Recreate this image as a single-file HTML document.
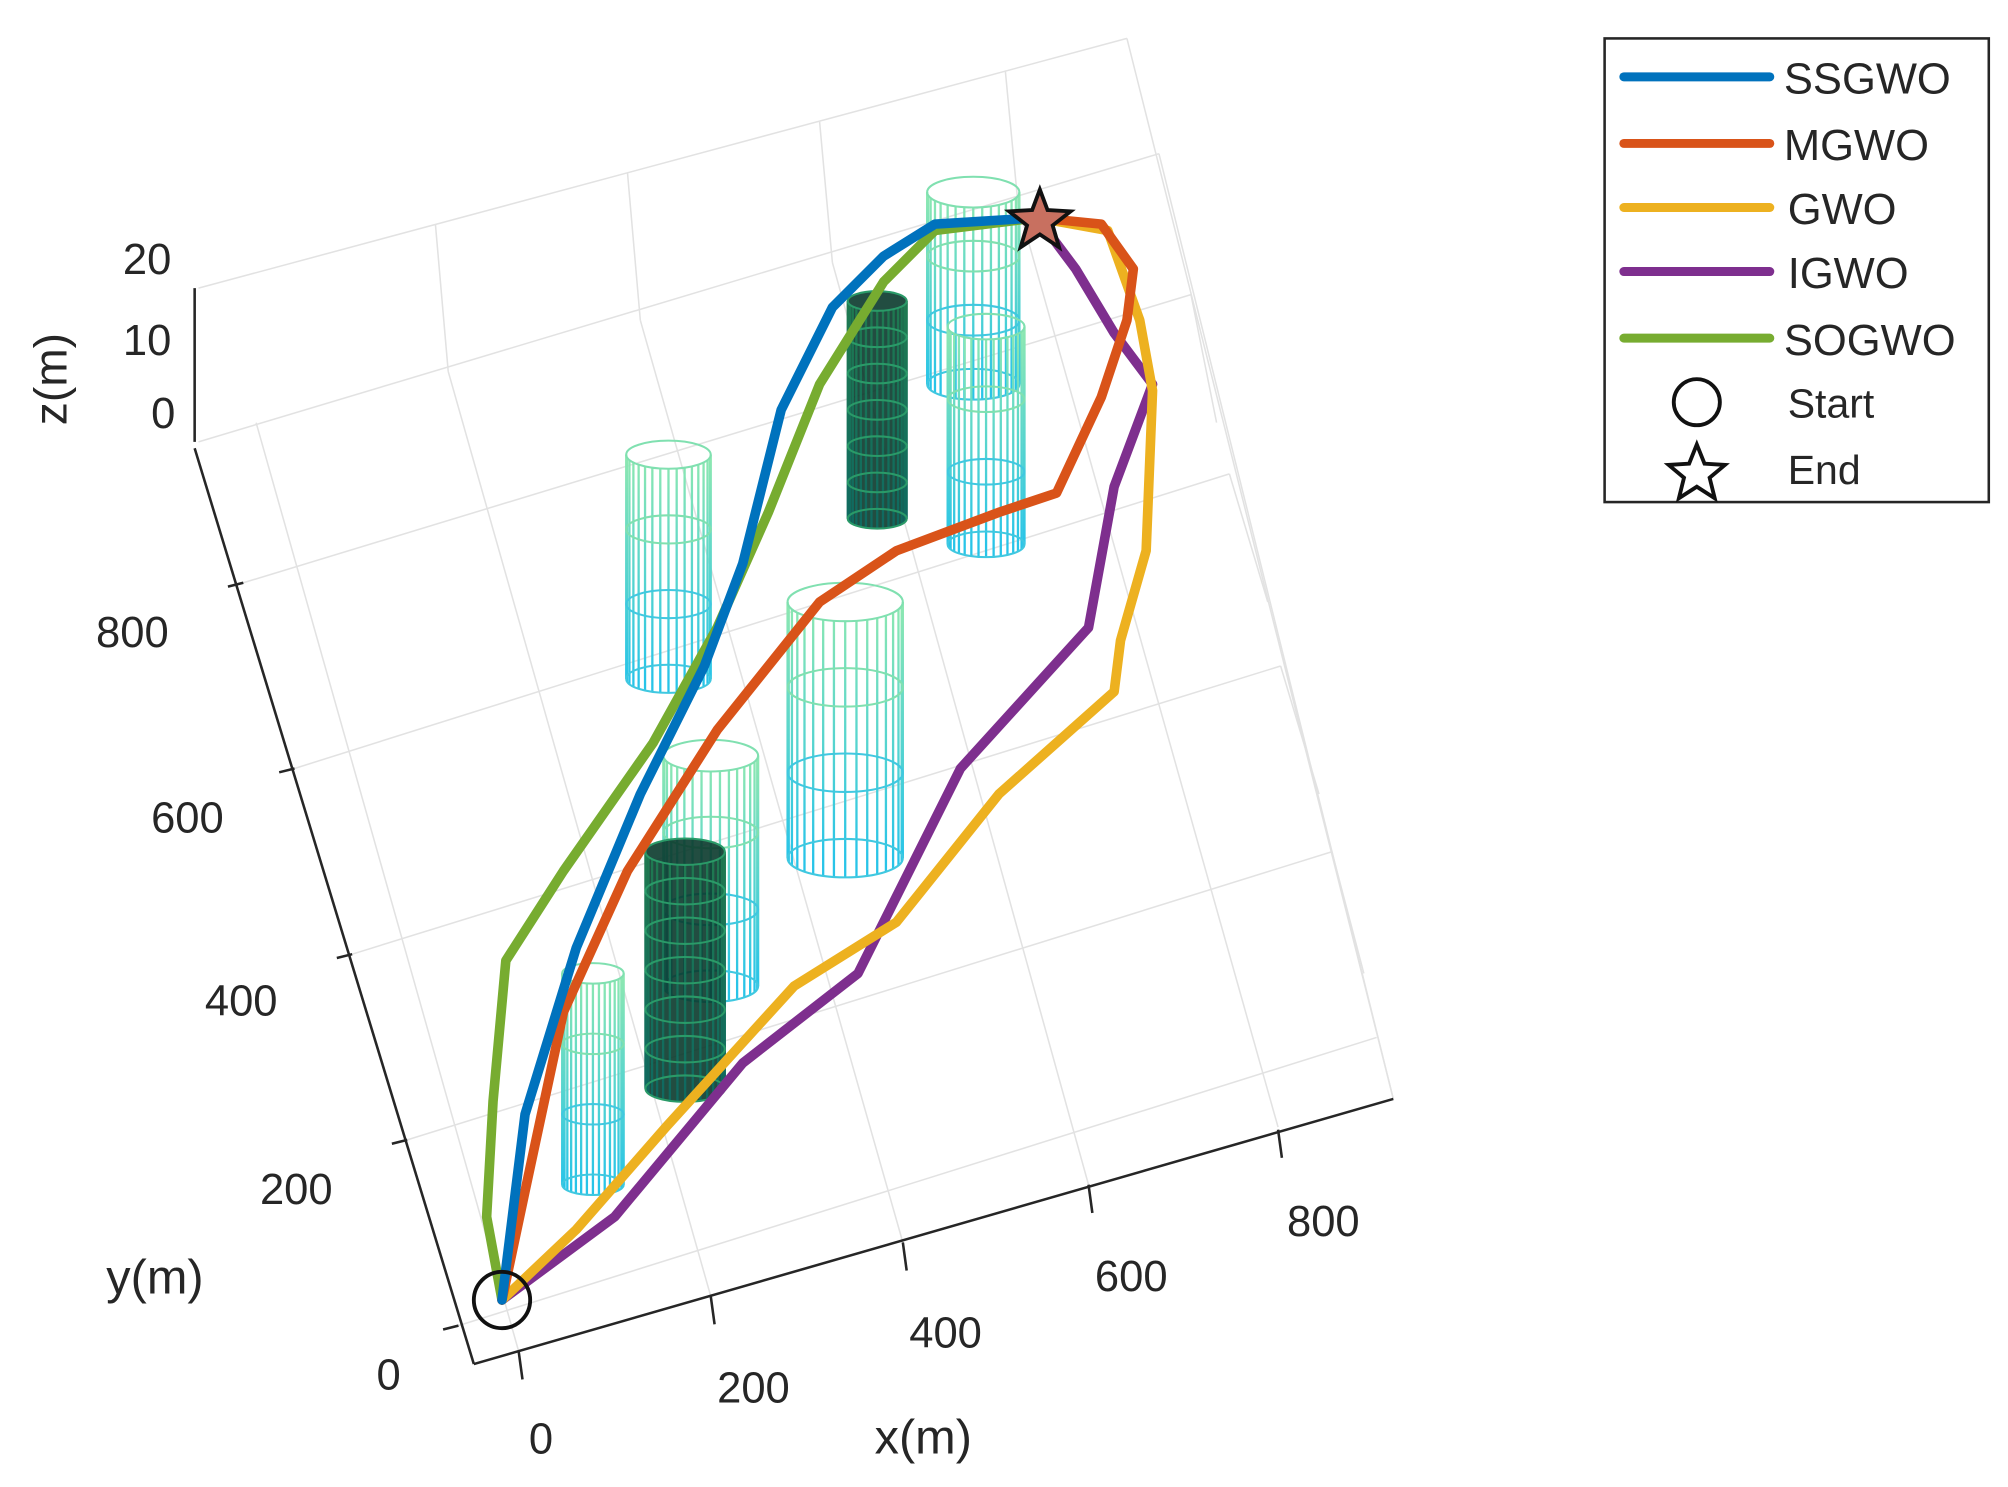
<!DOCTYPE html>
<html><head><meta charset="utf-8"><style>
html,body{margin:0;padding:0;background:#fff}
svg{display:block}
text{font-family:"Liberation Sans",sans-serif;fill:#262626}
</style></head><body>
<svg id="s" width="2008" height="1487" viewBox="0 0 1568 1161" preserveAspectRatio="none" xmlns="http://www.w3.org/2000/svg">
<defs id="defs"></defs>
<g id="grid" stroke="#e2e2e2" stroke-width="1.2" fill="none">
<line x1="155" y1="225" x2="880" y2="30"/>
<line x1="155" y1="345" x2="905" y2="120"/>
<line x1="880" y1="30" x2="1088" y2="858"/>
<line x1="905" y1="120" x2="1088" y2="858"/>
<line x1="340" y1="175" x2="350" y2="290"/>
<line x1="490" y1="135" x2="500" y2="250"/>
<line x1="640" y1="95" x2="650" y2="205"/>
<line x1="785" y1="55" x2="795" y2="160"/>
<line x1="190" y1="455" x2="930" y2="230"/>
<line x1="230" y1="600" x2="960" y2="370"/>
<line x1="275" y1="745" x2="1000" y2="520"/>
<line x1="318" y1="890" x2="1040" y2="665"/>
<line x1="358" y1="1035" x2="1075" y2="810"/>
<line x1="405" y1="1055" x2="200" y2="330"/>
<line x1="555" y1="1012" x2="350" y2="290"/>
<line x1="705" y1="970" x2="500" y2="250"/>
<line x1="850" y1="925" x2="650" y2="205"/>
<line x1="998" y1="880" x2="795" y2="160"/>
<line x1="930" y1="230" x2="950" y2="330"/>
<line x1="960" y1="370" x2="990" y2="470"/>
<line x1="1000" y1="520" x2="1030" y2="620"/>
<line x1="1040" y1="665" x2="1065" y2="760"/>
</g>
<g stroke="#262626" stroke-width="2" fill="none">
<line x1="152" y1="225" x2="152" y2="345"/>
<line x1="152" y1="350" x2="370" y2="1065"/>
<line x1="370" y1="1065" x2="1088" y2="858"/>
<line x1="190" y1="455" x2="178" y2="458"/><line x1="230" y1="600" x2="218" y2="603"/><line x1="275" y1="745" x2="263" y2="748"/><line x1="318" y1="890" x2="306" y2="893"/><line x1="358" y1="1035" x2="346" y2="1038"/>
<line x1="405" y1="1055" x2="408" y2="1077"/><line x1="555" y1="1012" x2="558" y2="1034"/><line x1="705" y1="970" x2="708" y2="992"/><line x1="850" y1="925" x2="853" y2="947"/><line x1="998" y1="882" x2="1001" y2="904"/>
</g>
<g font-size="34">
<text x="96" y="214">20</text><text x="96" y="277">10</text><text x="118" y="334">0</text>
<text x="75" y="505">800</text><text x="118" y="650">600</text><text x="160" y="793">400</text><text x="203" y="940">200</text><text x="294" y="1085">0</text>
<text x="413" y="1135">0</text><text x="560" y="1095">200</text><text x="710" y="1052">400</text><text x="855" y="1008">600</text><text x="1005" y="965">800</text>
<text x="83" y="1010" font-size="38">y(m)</text><text x="683" y="1135" font-size="38">x(m)</text>
<text transform="translate(52,296) rotate(-90)" text-anchor="middle" font-size="36">z(m)</text>
</g>
<g id="cyl"></g>
<g fill="none" stroke-width="7.5" stroke-linejoin="round" stroke-linecap="round">
<polyline stroke="#77AC30" points="392,1015 380,950 385,860 395,750 440,680 510,580 560,490 600,400 640,300 690,220 730,180 810,170"/>
<polyline stroke="#7E2F8E" points="392,1015 480,950 580,830 670,760 750,600 850,490 870,380 900,300 870,260 840,210 810,170"/>
<polyline stroke="#EDB120" points="392,1015 450,960 520,880 620,770 700,720 780,620 870,540 875,500 895,430 900,305 890,250 865,180 810,170"/>
<polyline stroke="#D95319" points="392,1015 410,930 440,790 490,680 560,570 640,470 700,430 780,400 825,385 860,310 880,250 885,210 860,175 810,170"/>
<polyline stroke="#0072BD" points="392,1015 410,870 450,740 500,620 550,520 580,440 610,320 650,240 690,200 730,175 810,170"/>
</g>
<circle cx="392" cy="1015" r="22" fill="none" stroke="#111" stroke-width="3"/>
<polygon points="812,148 818,164 836,165 822,176 827,193 812,183 797,193 802,176 788,165 806,164" fill="#c87060" stroke="#111" stroke-width="3"/>
<rect x="1253" y="30" width="300" height="362" fill="#fff" stroke="#262626" stroke-width="2"/>
<g stroke-width="7" stroke-linecap="round">
<line x1="1268" y1="60" x2="1382" y2="60" stroke="#0072BD"/>
<line x1="1268" y1="112" x2="1382" y2="112" stroke="#D95319"/>
<line x1="1268" y1="162" x2="1382" y2="162" stroke="#EDB120"/>
<line x1="1268" y1="212" x2="1382" y2="212" stroke="#7E2F8E"/>
<line x1="1268" y1="264" x2="1382" y2="264" stroke="#77AC30"/>
</g>
<g font-size="34">
<text x="1393" y="73">SSGWO</text><text x="1393" y="125">MGWO</text><text x="1396" y="175">GWO</text><text x="1396" y="225">IGWO</text><text x="1393" y="277">SOGWO</text>
<text x="1396" y="326" font-size="32">Start</text><text x="1396" y="378" font-size="32">End</text>
</g>
<circle cx="1325" cy="314" r="18" fill="none" stroke="#111" stroke-width="3"/>
<polygon points="1325,347 1331,362 1347,363 1335,373 1339,389 1325,380 1311,389 1315,373 1303,363 1319,362" fill="#fff" stroke="#111" stroke-width="3"/>
</svg>
<script>
var cyls=[[522,355,530,66,0],[660,470,670,90,0],[555,590,770,74,0],[463,760,925,48,0],[760,150,300,72,0],[770,255,425,60,0],[685,235,405,46,1],[535,665,850,62,1]];
var g=document.getElementById('cyl'),h='',dh='';
cyls.forEach(function(c,ci){var cx=c[0],t=c[1],b=c[2],w=c[3],d=c[4],rx=w/2,ry=w/6;
var id='g'+ci;
if(d){dh+='<linearGradient id="'+id+'" gradientUnits="userSpaceOnUse" x1="0" y1="'+t+'" x2="0" y2="'+b+'"><stop offset="0" stop-color="#1f7a50"/><stop offset="1" stop-color="#0f6a60"/></linearGradient>';}
else{dh+='<linearGradient id="'+id+'" gradientUnits="userSpaceOnUse" x1="0" y1="'+t+'" x2="0" y2="'+b+'"><stop offset="0" stop-color="#8ee8b0"/><stop offset="1" stop-color="#28c4e8"/></linearGradient>';}
var st='url(#'+id+')';
if(d)h+='<path d="M'+(cx-rx)+','+t+' L'+(cx-rx)+','+b+' A'+rx+','+ry+' 0 0 0 '+(cx+rx)+','+b+' L'+(cx+rx)+','+t+' A'+rx+','+ry+' 0 0 0 '+(cx-rx)+','+t+' Z" fill="#0a3a2c" fill-opacity="0.9"/>';
for(var i=0;i<=16;i++){var a=Math.PI*i/16;var x=cx-rx*Math.cos(a);var dy=ry*Math.sin(a);
h+='<line x1="'+x.toFixed(1)+'" y1="'+(t+dy).toFixed(1)+'" x2="'+x.toFixed(1)+'" y2="'+(b+dy).toFixed(1)+'" stroke="'+st+'" stroke-width="1.8"/>';}
var n=d?6:3;for(var k=0;k<=n;k++){var y=t+(b-t)*k/n;
h+='<ellipse cx="'+cx+'" cy="'+y+'" rx="'+rx+'" ry="'+ry+'" fill="none" stroke="'+(d?'#2a9a68':(k<n/2?'#80e0b0':'#40c8e0'))+'" stroke-width="1.6"/>';}
});
document.getElementById('defs').innerHTML=dh;
g.innerHTML=h;
</script>
</body></html>
